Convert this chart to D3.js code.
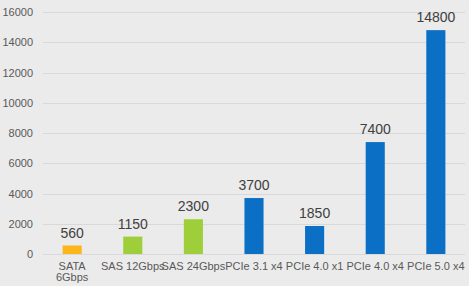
<!DOCTYPE html>
<html>
<head>
<meta charset="utf-8">
<script src="https://cdn.jsdelivr.net/npm/d3@7"></script>
<style>
  html, body { margin: 0; padding: 0; background: #ebebeb; }
  svg { display: block; font-family: "Liberation Sans", Arial, sans-serif; }
</style>
</head>
<body>
<div id="chart"></div>
<script>
// data
const categories = ['SATA 6Gbps', 'SAS 12Gbps', 'SAS 24Gbps', 'PCIe 3.1 x4', 'PCIe 4.0 x1', 'PCIe 4.0 x4', 'PCIe 5.0 x4'];
const values = [560, 1150, 2300, 3700, 1850, 7400, 14800];
const groups = ['sata', 'sas', 'sas', 'pcie', 'pcie', 'pcie', 'pcie'];
const yTicks = [0, 2000, 4000, 6000, 8000, 10000, 12000, 14000, 16000];

const width = 469, height = 286;
const margin = {top: 12, right: 3, bottom: 32, left: 42};

const colors = {sata: '#fcb61a', sas: '#9ecf3a', pcie: '#0b6fc6'};

const svg = d3.select('#chart').append('svg')
    .attr('width', width)
    .attr('height', height);

svg.append('rect')
    .attr('width', width)
    .attr('height', height)
    .attr('fill', '#ebebeb');

const x = d3.scaleBand()
    .domain(categories)
    .range([margin.left, width - margin.right])
    .paddingInner(0.685)
    .paddingOuter(0.34);

const y = d3.scaleLinear()
    .domain([0, 16000])
    .range([height - margin.bottom, margin.top]);

// gridlines
svg.append('g')
    .selectAll('line')
    .data(yTicks)
    .join('line')
    .attr('x1', margin.left + 1)
    .attr('x2', width - 4)
    .attr('y1', d => Math.round(y(d)) + 0.5)
    .attr('y2', d => Math.round(y(d)) + 0.5)
    .attr('stroke', '#d9d9d9')
    .attr('stroke-width', 1);

// y axis labels, plain numbers without separators
const yAxis = d3.axisLeft(y).tickValues(yTicks).tickFormat(d3.format('d')).tickSize(0).tickPadding(0);
svg.append('g')
    .attr('transform', 'translate(' + (margin.left - 9) + ',0)')
    .call(yAxis)
    .call(g => g.select('.domain').remove())
    .selectAll('text')
    .attr('fill', '#595959')
    .attr('font-size', '11px');

// bars
svg.append('g')
    .selectAll('rect')
    .data(categories)
    .join('rect')
    .attr('x', d => x(d))
    .attr('width', x.bandwidth())
    .attr('y', (d, i) => y(values[i]))
    .attr('height', (d, i) => y(0) - y(values[i]))
    .attr('fill', (d, i) => colors[groups[i]]);

// value labels
svg.append('g')
    .selectAll('text')
    .data(categories)
    .join('text')
    .attr('x', d => x(d) + x.bandwidth() / 2)
    .attr('y', (d, i) => y(values[i]) - 8)
    .attr('text-anchor', 'middle')
    .attr('font-size', '14px')
    .attr('fill', '#404040')
    .text((d, i) => values[i]);

// category labels, SATA wraps onto two lines
const xLabels = svg.append('g')
    .selectAll('text')
    .data(categories)
    .join('text')
    .attr('x', d => x(d) + x.bandwidth() / 2)
    .attr('y', 270)
    .attr('text-anchor', 'middle')
    .attr('font-size', '11px')
    .attr('fill', '#595959');

xLabels.each(function(d) {
    const t = d3.select(this);
    if (d === 'SATA 6Gbps') {
        t.append('tspan').attr('x', t.attr('x')).text('SATA');
        t.append('tspan').attr('x', t.attr('x')).attr('dy', '11').text('6Gbps');
    } else {
        t.text(d);
    }
});
</script>
</body>
</html>
